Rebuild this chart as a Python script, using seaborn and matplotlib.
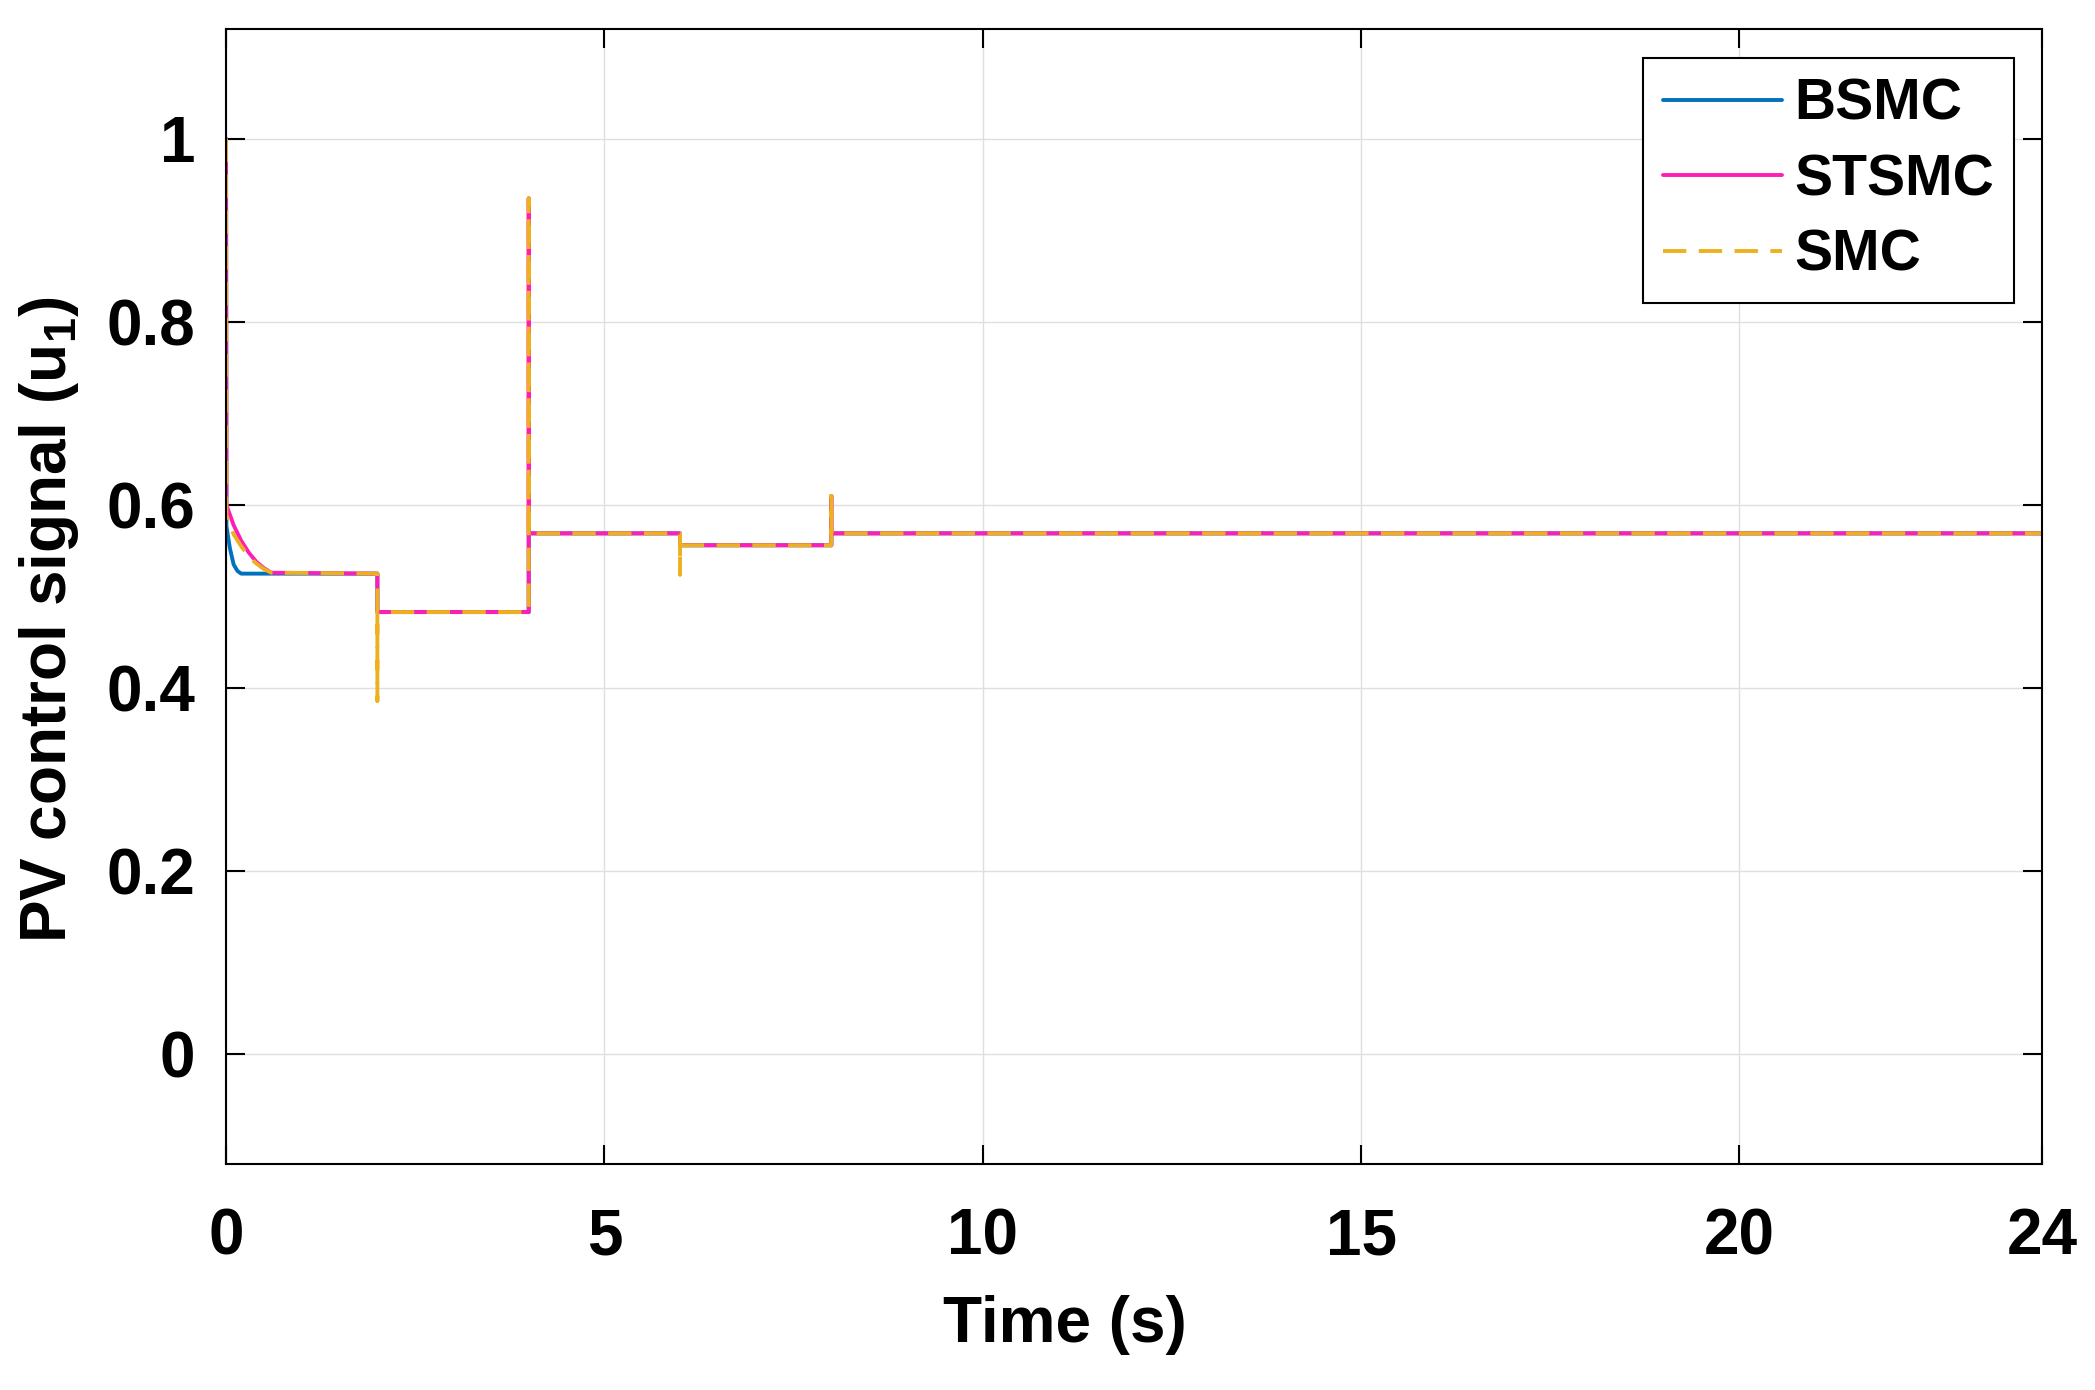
import numpy as np
import pandas as pd
import matplotlib
matplotlib.use("Agg")
import matplotlib.pyplot as plt
import seaborn as sns

# --- data ---
BSMC_T = [0, 0.005, 0.05, 0.1, 0.15, 0.2, 2.0, 2.0, 4.0, 4.0, 6.0, 6.0, 8.0, 8.0, 24]
BSMC_U = [1.0, 0.577, 0.553, 0.535, 0.528, 0.525, 0.525, 0.483, 0.483, 0.569,
          0.569, 0.556, 0.556, 0.569, 0.569]

STSMC_T = [0, 0.005, 0.1, 0.2, 0.3, 0.4, 0.5, 0.6, 2.0, 2.0, 4.0, 4.0, 4.0,
           6.0, 6.0, 8.0, 8.0, 8.0, 24]
STSMC_U = [1.0, 0.600, 0.578, 0.561, 0.548, 0.538, 0.531, 0.526, 0.525, 0.483,
           0.483, 0.935, 0.569, 0.569, 0.556, 0.556, 0.610, 0.569, 0.569]

SMC_T = [0, 0.005, 0.1, 0.2, 0.3, 0.4, 0.5, 0.6, 2.0, 2.0, 2.0, 4.0, 4.0, 4.0,
         6.0, 6.0, 6.0, 8.0, 8.0, 8.0, 24]
SMC_U = [1.0, 0.589, 0.568, 0.555, 0.544, 0.536, 0.530, 0.526, 0.525, 0.386,
         0.483, 0.483, 0.935, 0.569, 0.569, 0.524, 0.556, 0.556, 0.610, 0.569, 0.569]

X_TICKS = [0, 5, 10, 15, 20, 24]
Y_TICKS = [0, 0.2, 0.4, 0.6, 0.8, 1.0]
Y_TICK_LABELS = ["0", "0.2", "0.4", "0.6", "0.8", "1"]

COLORS = {"BSMC": "#0072BD", "STSMC": "#FF1DB4", "SMC": "#EDB120"}

# --- style ---
sns.set_theme(style="ticks")
plt.rcParams["font.family"] = ["Liberation Sans", "DejaVu Sans"]
plt.rcParams["font.weight"] = "bold"
plt.rcParams["text.color"] = "black"
plt.rcParams["axes.labelcolor"] = "black"
plt.rcParams["mathtext.fontset"] = "custom"
plt.rcParams["mathtext.bf"] = "Liberation Sans:bold"
plt.rcParams["mathtext.rm"] = "Liberation Sans:bold"
plt.rcParams["mathtext.default"] = "bf"

fig = plt.figure(figsize=(20.95, 13.9), dpi=100)
ax = fig.add_axes([0.1079, 0.1626, 0.8668, 0.8165])

LW = 2.8
sns.lineplot(x=BSMC_T, y=BSMC_U, sort=False, estimator=None, ax=ax,
             color=COLORS["BSMC"], linewidth=LW, label="BSMC")
sns.lineplot(x=STSMC_T, y=STSMC_U, sort=False, estimator=None, ax=ax,
             color=COLORS["STSMC"], linewidth=LW, label="STSMC")
sns.lineplot(x=SMC_T, y=SMC_U, sort=False, estimator=None, ax=ax,
             color=COLORS["SMC"], linewidth=LW, label="SMC",
             linestyle=(0, (6, 3.2)))

ax.set_xlim(0, 24)
ax.set_ylim(-0.12, 1.12)
ax.set_xticks(X_TICKS)
ax.set_yticks(Y_TICKS)
ax.set_yticklabels(Y_TICK_LABELS)

ax.grid(True, color="#DFDFDF", linewidth=1.0)
ax.set_axisbelow(True)
for sp in ax.spines.values():
    sp.set_visible(True)
    sp.set_color("black")
    sp.set_linewidth(1.5)

ax.tick_params(axis="both", direction="in", length=14, width=1.5,
               top=True, right=True, labelsize=46, colors="black",
               labelcolor="black")
ax.tick_params(axis="x", pad=31)
ax.tick_params(axis="y", pad=22)
for lab in ax.get_xticklabels() + ax.get_yticklabels():
    lab.set_fontweight("bold")

ax.set_xlabel("Time (s)", fontsize=46, fontweight="bold", color="black")
ax.set_ylabel("PV control signal (u$_1$)", fontsize=46, fontweight="bold",
              color="black")
ax.xaxis.set_label_coords(0.462, -0.115)
ax.yaxis.set_label_coords(-0.08, 0.48)

leg = ax.legend(loc="upper right", fontsize=41, frameon=True, fancybox=False,
                framealpha=1, edgecolor="black", handlelength=2.1,
                handletextpad=0.2, labelspacing=0.38, borderaxespad=0.5,
                borderpad=0.35)
leg.get_frame().set_linewidth(1.5)
for t in leg.get_texts():
    t.set_fontweight("bold")
    t.set_color("black")

fig.savefig("out.png", dpi=100)
